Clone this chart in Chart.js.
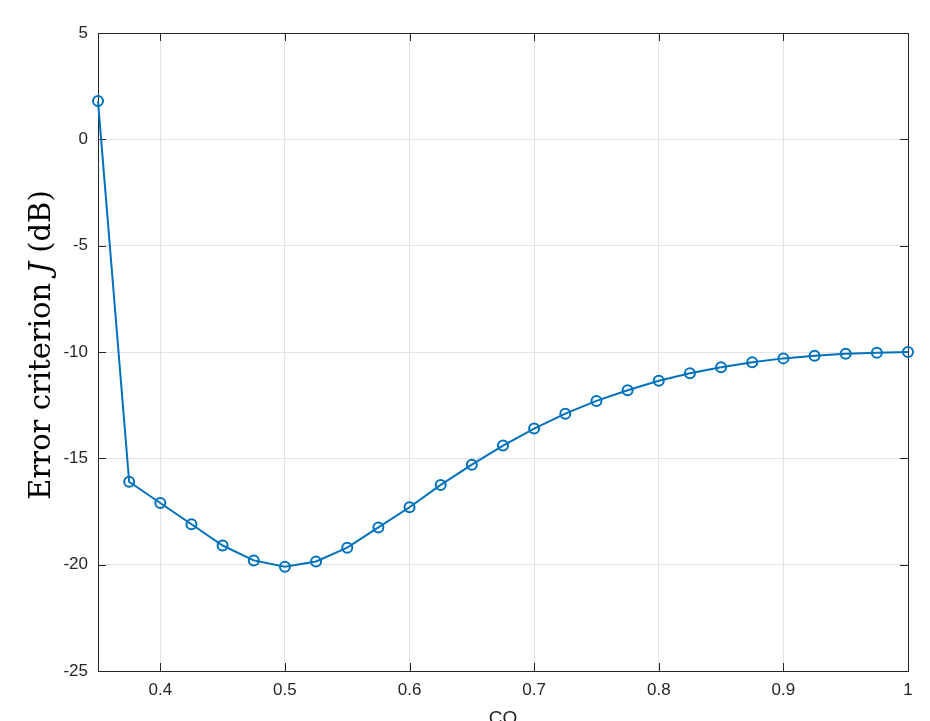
<!DOCTYPE html>
<html>
<head>
<meta charset="utf-8">
<script src="https://cdn.jsdelivr.net/npm/chart.js@4.4.1/dist/chart.umd.min.js"></script>
<style>
  html, body { margin: 0; padding: 0; background: #fff; }
  #wrap { width: 930px; height: 721px; }
</style>
</head>
<body>
<div id="wrap"><canvas id="chart" width="930" height="721"></canvas></div>
<script>
// CO values (x) and error criterion J in dB (y)
const coValues = [0.35, 0.375, 0.4, 0.425, 0.45, 0.475, 0.5, 0.525, 0.55, 0.575, 0.6, 0.625, 0.65, 0.675,
  0.7, 0.725, 0.75, 0.775, 0.8, 0.825, 0.85, 0.875, 0.9, 0.925, 0.95, 0.975, 1.0];
const jValues = [1.8, -16.1, -17.1, -18.1, -19.1, -19.8, -20.1, -19.85, -19.2, -18.25, -17.3, -16.25, -15.3, -14.4,
  -13.6, -12.9, -12.3, -11.8, -11.35, -11.0, -10.72, -10.48, -10.3, -10.18, -10.08, -10.03, -10.0];
const xTicks = [0.4, 0.5, 0.6, 0.7, 0.8, 0.9, 1.0];
const yTicks = [-25, -20, -15, -10, -5, 0, 5];

const axisColor = '#262626';
const lineColor = '#0072BD';

// box around the axes with inward ticks, like matlab
const boxPlugin = {
  id: 'box',
  beforeDatasetsDraw(chart) {
    const { ctx, chartArea: a, scales } = chart;
    ctx.save();
    ctx.strokeStyle = axisColor;
    ctx.lineWidth = 1;
    ctx.beginPath();
    const tl = 8;
    xTicks.forEach(v => {
      const px = Math.round(scales.x.getPixelForValue(v)) + 0.5;
      ctx.moveTo(px, a.bottom); ctx.lineTo(px, a.bottom - tl);
      ctx.moveTo(px, a.top); ctx.lineTo(px, a.top + tl);
    });
    yTicks.forEach(v => {
      const py = Math.round(scales.y.getPixelForValue(v)) + 0.5;
      ctx.moveTo(a.left, py); ctx.lineTo(a.left + tl, py);
      ctx.moveTo(a.right, py); ctx.lineTo(a.right - tl, py);
    });
    ctx.stroke();
    ctx.strokeRect(Math.round(a.left) + 0.5, Math.round(a.top) + 0.5,
      Math.round(a.right - a.left), Math.round(a.bottom - a.top));
    ctx.restore();
  },
  afterDraw(chart) {
    const { ctx, chartArea: a } = chart;
    ctx.save();
    ctx.fillStyle = axisColor;
    // x label
    ctx.font = '19px "Liberation Sans", Arial, sans-serif';
    ctx.textAlign = 'center';
    ctx.textBaseline = 'alphabetic';
    ctx.fillText('CO', (a.left + a.right) / 2, 724);
    // y label with italic J
    ctx.fillStyle = '#000';
    const normal = '29px "DejaVu Serif", serif';
    const italic = 'italic 29px "DejaVu Serif", serif';
    const parts = [['Error criterion ', normal], ['J', italic], [' (dB)', normal]];
    let total = 0;
    parts.forEach(p => { ctx.font = p[1]; total += ctx.measureText(p[0]).width; });
    ctx.translate(50, (a.top + a.bottom) / 2 - 7);
    ctx.rotate(-Math.PI / 2);
    ctx.textAlign = 'left';
    let x = -total / 2;
    parts.forEach(p => {
      ctx.font = p[1];
      ctx.fillText(p[0], x, 0);
      x += ctx.measureText(p[0]).width;
    });
    ctx.restore();
  }
};

new Chart(document.getElementById('chart'), {
  type: 'line',
  data: {
    datasets: [{
      data: coValues.map((c, i) => ({ x: c, y: jValues[i] })),
      borderColor: lineColor,
      borderWidth: 2,
      pointRadius: 5,
      pointBorderWidth: 2,
      pointBackgroundColor: 'rgba(0,0,0,0)',
      pointBorderColor: lineColor,
      tension: 0,
      clip: false,
    }],
  },
  options: {
    responsive: false,
    animation: false,
    layout: { padding: { top: 33, right: 22, left: 0, bottom: 0 } },
    plugins: { legend: { display: false }, tooltip: { enabled: false } },
    scales: {
      x: {
        type: 'linear',
        min: 0.35,
        max: 1,
        afterBuildTicks(scale) { scale.ticks = xTicks.map(v => ({ value: v })); },
        afterFit(scale) { scale.height = 50; },
        grid: { color: '#e3e3e3', drawTicks: false },
        border: { display: false },
        ticks: {
          color: axisColor,
          padding: 9,
          maxRotation: 0,
          font: { family: '"Liberation Sans", Arial, sans-serif', size: 17 },
          callback: v => String(Number(v.toFixed(2))),
        },
      },
      y: {
        type: 'linear',
        min: -25,
        max: 5,
        afterBuildTicks(scale) { scale.ticks = yTicks.map(v => ({ value: v })); },
        afterFit(scale) { scale.width = 98; },
        grid: { color: '#e3e3e3', drawTicks: false },
        border: { display: false },
        ticks: {
          color: axisColor,
          padding: 10,
          font: { family: '"Liberation Sans", Arial, sans-serif', size: 17 },
        },
      },
    },
  },
  plugins: [boxPlugin],
});
</script>
</body>
</html>
